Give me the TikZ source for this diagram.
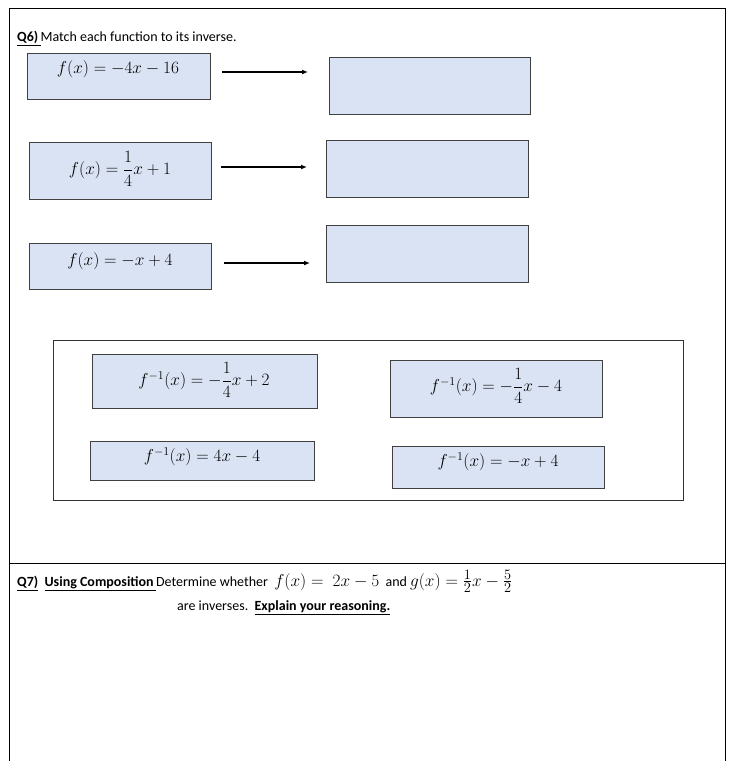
\documentclass[tikz,border=0pt]{standalone}
\usepackage{fontspec}
\usepackage{amsmath}
\setmainfont{Carlito}
\definecolor{bxfill}{HTML}{DAE3F3}
\tikzset{
 bx/.style={draw=black!75,fill=bxfill,line width=0.8pt,inner sep=0pt},
 eq/.style={font=\fontsize{18}{20}\selectfont,inner sep=0pt},
 arr/.style={-{Latex[length=6pt,width=5pt]},line width=1.2pt},
 txt/.style={font=\fontsize{14}{16}\selectfont,inner sep=0pt,anchor=base west}
}
\usetikzlibrary{arrows.meta}
\begin{document}
\begin{tikzpicture}[x=1pt,y=-1pt]
\useasboundingbox (0,0) rectangle (736,761);
\draw[line width=0.8pt] (9,761) -- (9,8) -- (725,8) -- (725,761);
\draw[line width=0.8pt] (9,563) -- (725,563);
\node[txt] (q6) at (17,41) {\underline{\textbf{Q6)}\,}Match each function to its inverse.};
\node[bx,minimum width=183pt,minimum height=46pt] (l1) at (118.5,76) {};
\node[bx,minimum width=182pt,minimum height=57pt] (l2) at (120,170.5) {};
\node[bx,minimum width=182pt,minimum height=46pt] (l3) at (120,266) {};
\node[bx,minimum width=201pt,minimum height=57pt] (r1) at (429.5,85.5) {};
\node[bx,minimum width=202pt,minimum height=57pt] (r2) at (427,168.5) {};
\node[bx,minimum width=202pt,minimum height=57pt] (r3) at (427,253.5) {};
\node[eq] (t1) at (118,69) {$f(x)=-4x-16$};
\node[eq] (t2) at (120,169) {$f(x)=\dfrac{1}{4}x+1$};
\node[eq] (t3) at (120,261) {$f(x)=-x+4$};
\coordinate (a1s) at (222,72); \coordinate (a1e) at (308,72);
\coordinate (a2s) at (221,167); \coordinate (a2e) at (307,167);
\coordinate (a3s) at (224,263); \coordinate (a3e) at (310,263);
\draw[arr] (a1s) -- (a1e);
\draw[arr] (a2s) -- (a2e);
\draw[arr] (a3s) -- (a3e);
\node[draw=black!80,line width=0.8pt,minimum width=630pt,minimum height=160pt,inner sep=0pt] (bank) at (368,420) {};
\node[bx,minimum width=225pt,minimum height=54pt] (b1) at (204.5,381) {};
\node[bx,minimum width=212pt,minimum height=57pt] (b2) at (496,388.5) {};
\node[bx,minimum width=224pt,minimum height=39pt] (b3) at (202,460.5) {};
\node[bx,minimum width=212pt,minimum height=42pt] (b4) at (498,467) {};
\node[eq] (s1) at (204,380) {$f^{-1}(x)=-\dfrac{1}{4}x+2$};
\node[eq] (s2) at (496,386) {$f^{-1}(x)=-\dfrac{1}{4}x-4$};
\node[eq] (s3) at (202,457) {$f^{-1}(x)=4x-4$};
\node[eq] (s4) at (498,462) {$f^{-1}(x)=-x+4$};
\node[txt] (q7) at (17,586) {\underline{\textbf{Q7)}}\ \ \underline{\textbf{Using Composition}\,}Determine whether \ {\fontsize{19}{21}\selectfont$f(x)=\ 2x-5$}\ \ and {\fontsize{19}{21}\selectfont$g(x)=\frac{1}{2}x-\frac{5}{2}$}};
\node[txt] (q7b) at (177,610) {are inverses.\ \ \underline{\textbf{Explain your reasoning.}}};
\end{tikzpicture}
\end{document}
